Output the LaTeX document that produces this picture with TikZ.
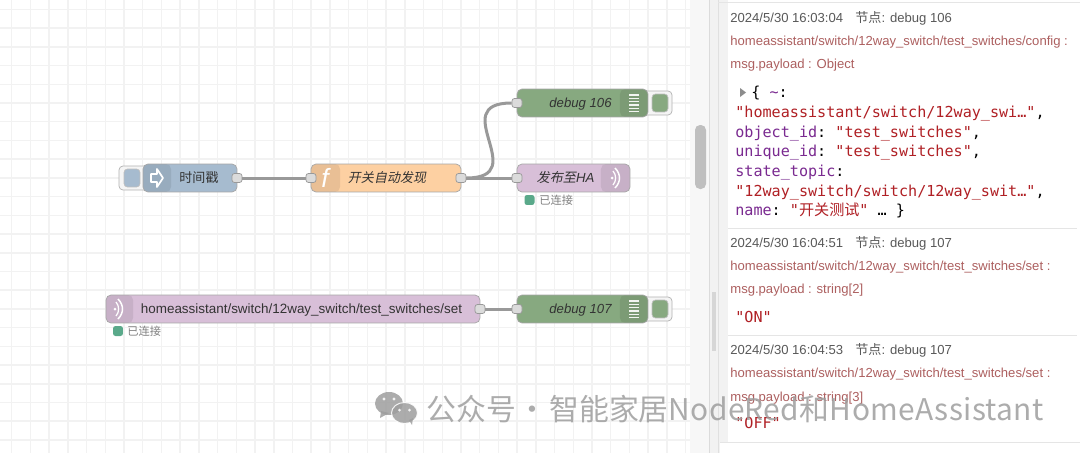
\documentclass[tikz,border=0pt]{standalone}
\usepackage{fontspec}
\setmainfont{Liberation Sans}
\setmonofont{DejaVu Sans Mono}
\newfontfamily\cjk{Noto Sans CJK SC}
\newfontfamily\cjkit[FakeSlant=0.2]{Noto Sans CJK SC}
\newfontfamily\cjkmark[LetterSpace=1.2]{Noto Sans CJK SC}
\usepackage{tikz}
\usetikzlibrary{calc}
\usepackage{xcolor}
\definecolor{injectblue}{HTML}{A6BBCF}
\definecolor{funcorange}{HTML}{FDD0A2}
\definecolor{debuggreen}{HTML}{87A980}
\definecolor{mqttpurple}{HTML}{D8BFD8}
\definecolor{gridgray}{HTML}{F2F2F2}
\definecolor{wiregray}{HTML}{999999}
\definecolor{statusgreen}{HTML}{5AA98A}
\definecolor{toppink}{HTML}{AD6060}
\definecolor{keypurple}{HTML}{7A2A90}
\definecolor{strred}{HTML}{B02025}

\begin{document}
\begin{tikzpicture}[
    x=0.02cm, y=-0.02cm,
    flownode/.style={rectangle, rounded corners=0.1cm, draw=black!35, fill=#1, minimum height=0.56cm, inner sep=0pt},
    stripleft/.style={path picture={\fill[black, opacity=0.08] (path picture bounding box.south west) rectangle ([xshift=#1]path picture bounding box.north west);}},
    stripright/.style={path picture={\fill[black, opacity=0.08] (path picture bounding box.south east) rectangle ([xshift=-#1]path picture bounding box.north east);}},
    port/.style={rectangle, rounded corners=0.05cm, draw=wiregray, fill=black!14, minimum width=0.2cm, minimum height=0.18cm, inner sep=0pt},
    wire/.style={draw=wiregray, line width=0.06cm},
    btnouter/.style={rectangle, rounded corners=0.08cm, draw=black!30, fill=black!4, minimum height=0.48cm, inner sep=0pt},
    btninner/.style={rectangle, rounded corners=0.07cm, fill=#1, draw=black!25, minimum width=0.32cm, minimum height=0.36cm, inner sep=0pt},
    statusdot/.style={rectangle, rounded corners=0.05cm, fill=statusgreen, minimum width=0.2cm, minimum height=0.2cm, inner sep=0pt},
    statustext/.style={anchor=west, inner sep=0pt, text=black!50, font=\cjk\fontsize{6.4}{8}\selectfont},
    label/.style={inner sep=0pt, text=black!80, text height=0.75em, text depth=0.2em, font=\fontsize{7.65}{9}\selectfont},
    logline/.style={anchor=west, inner sep=0pt, text height=0.75em, text depth=0.2em, font=\fontsize{7.45}{9}\selectfont},
    codeline/.style={anchor=west, inner sep=0pt, text height=0.75em, text depth=0.2em, font=\ttfamily\fontsize{8.6}{10}\selectfont}
]
\useasboundingbox (0,0) rectangle (1080,453);
\fill[white] (0,0) rectangle (1080,453);

% === CANVAS GRID ===
\foreach \i [evaluate=\i as \gx using 11.7+18.72*\i] in {0,...,36}
    \draw[gridgray, line width=0.03cm] (\gx,0) -- (\gx,453);
\foreach \j [evaluate=\j as \gy using 9.4+18.72*\j] in {0,...,23}
    \draw[gridgray, line width=0.03cm] (0,\gy) -- (690,\gy);

% === GUTTER AND SCROLLBARS ===
\fill[black!3] (690,0) rectangle (709,453);
\fill[black!5] (709,0) rectangle (728,453);
\draw[black!14, line width=0.02cm] (709,0) -- (709,453);
\draw[black!12, line width=0.02cm] (718,0) -- (718,453);
\fill[black!25, rounded corners=0.1cm] (695,125) rectangle (706,189);
\fill[black!16] (712,292) rectangle (716,351);

% === DEBUG PANEL BACKGROUND ===
\fill[white] (728,3) rectangle (1080,453);
\fill[white] (720,443) rectangle (1080,453);
\draw[black!10, line width=0.02cm] (718,2) -- (1080,2);
\draw[black!10, line width=0.02cm] (728,228) -- (1077,228);
\draw[black!10, line width=0.02cm] (728,335) -- (1077,335);
\draw[black!10, line width=0.02cm] (720,442) -- (1080,442);

% === FLOW 1 ===
\node[btnouter, minimum width=0.6cm] (injectbtn) at (134,178) {};
\node[btninner=injectblue] (injectkey) at (132,178) {};
\node[flownode=injectblue, stripleft=0.56cm, minimum width=1.88cm] (inject) at (190,178) {};
\node[label, font=\cjk\fontsize{7.4}{9}\selectfont] (injecttext) at (199,178) {时间戳};
\draw[white, line width=0.035cm, line join=round] (151,174) -- (157,174) -- (157,169) -- (163,178) -- (157,187) -- (157,182) -- (151,182) -- cycle;

\node[flownode=funcorange, stripleft=0.58cm, minimum width=3cm] (func) at (386,178) {};
\node[label, font=\cjkit\fontsize{7.4}{9}\selectfont] (functext) at (387,178) {开关自动发现};
\node[text=white, inner sep=0pt, font=\rmfamily\itshape\fontsize{15}{15}\selectfont] (funcicon) at (325,178) {f};

\node[btnouter, minimum width=0.6cm] (dbgbtna) at (657,103) {};
\node[btninner=debuggreen] (dbgkeya) at (660,103) {};
\node[flownode=debuggreen, stripright=0.56cm, minimum width=2.62cm] (dbga) at (582.5,103) {};
\node[label, font=\itshape\fontsize{7.5}{9}\selectfont] (dbgatext) at (580.5,103) {debug 106};

\node[flownode=mqttpurple, stripright=0.58cm, minimum width=2.26cm] (pub) at (573.5,178) {};
\node[label, font=\fontsize{7.5}{9}\selectfont] (pubtext) at (565.5,178) {{\cjkit 发布至}\textit{HA}};
\node[statusdot] (pubdot) at (529.5,200) {};
\node[statustext] (pubstatus) at (539,200) {已连接};

% === FLOW 2 ===
\node[flownode=mqttpurple, stripleft=0.54cm, minimum width=7.48cm] (sub) at (293,309) {};
\node[label] (subtext) at (301.5,309) {homeassistant/switch/12way\_switch/test\_switches/set};
\node[statusdot] (subdot) at (118,331) {};
\node[statustext] (substatus) at (127,331) {已连接};

\node[btnouter, minimum width=0.6cm] (dbgbtnb) at (657,309) {};
\node[btninner=debuggreen] (dbgkeyb) at (660,309) {};
\node[flownode=debuggreen, stripright=0.56cm, minimum width=2.62cm] (dbgb) at (582.5,309) {};
\node[label, font=\itshape\fontsize{7.5}{9}\selectfont] (dbgbtext) at (580.5,309) {debug 107};

% Icons in the strips
\foreach \ty in {103,309}
    \foreach \dy in {-8,-4.7,-1.4,1.9,5.2,8.5}
        \fill[white, opacity=0.9] (629,\ty+\dy-0.7) rectangle (639,\ty+\dy+0.7);
\foreach \ix/\iy in {612/178,115/309} {
    \fill[white] (\ix,\iy) circle (1.5);
    \draw[white, line width=0.025cm] (\ix+1,\iy-7) .. controls +(3.5,4) and +(3.5,-4) .. ++(0,14);
    \draw[white, line width=0.03cm] (\ix+3,\iy-10) .. controls +(6,6) and +(6,-6) .. ++(0,20);
}

% Ports
\node[port] (injectout) at (237,178) {};
\node[port] (funcin) at (311,178) {};
\node[port] (funcout) at (461,178) {};
\node[port] (dbgain) at (517,103) {};
\node[port] (pubin) at (517,178) {};
\node[port] (subout) at (480,309) {};
\node[port] (dbgbin) at (517,309) {};

% Wires
\draw[wire] (injectout) -- (funcin);
\draw[wire] (funcout) -- (pubin);
\draw[wire] (funcout.east) .. controls (533,178) and (445,103) .. (dbgain.west);
\draw[wire] (subout) -- (dbgbin);

% === DEBUG MESSAGES ===
\node[logline, text=black!65] (timea) at (730,18) {2024/5/30 16:03:04};
\node[logline, text=black!65] (nodea) at (855,18) {{\cjk 节点}: debug 106};
\node[logline, text=toppink] (topica) at (730,41) {homeassistant/switch/12way\_switch/test\_switches/config :};
\node[logline, text=toppink] (typea) at (730,64) {msg.payload : Object};
\fill[black!45] (740,88) -- (746,92.5) -- (740,97) -- cycle;
\node[codeline] (codea) at (751,93) {\{ \textcolor{keypurple}{\textasciitilde}:};
\node[codeline, text=strred] (codeb) at (735,113) {"homeassistant/switch/12way\_swi…"\textcolor{black}{,}};
\node[codeline] (codec) at (735,132.5) {\textcolor{keypurple}{object\_id}: \textcolor{strred}{"test\_switches"},};
\node[codeline] (coded) at (735,152) {\textcolor{keypurple}{unique\_id}: \textcolor{strred}{"test\_switches"},};
\node[codeline, text=keypurple] (codee) at (735,172) {state\_topic\textcolor{black}{:}};
\node[codeline, text=strred] (codef) at (735,192) {"12way\_switch/switch/12way\_swit…"\textcolor{black}{,}};
\node[codeline] (codeg) at (735,211) {\textcolor{keypurple}{name}: \textcolor{strred}{"{\cjk 开关测试}"} … \}};

\node[logline, text=black!65] (timeb) at (730,243) {2024/5/30 16:04:51};
\node[logline, text=black!65] (nodeb) at (855,243) {{\cjk 节点}: debug 107};
\node[logline, text=toppink] (topicb) at (730,266) {homeassistant/switch/12way\_switch/test\_switches/set :};
\node[logline, text=toppink] (typeb) at (730,289) {msg.payload : string[2]};
\node[codeline, text=strred] (codeh) at (735,318) {"ON"};

\node[logline, text=black!65] (timec) at (730,350) {2024/5/30 16:04:53};
\node[logline, text=black!65] (nodec) at (855,350) {{\cjk 节点}: debug 107};
\node[logline, text=toppink] (topicc) at (730,373) {homeassistant/switch/12way\_switch/test\_switches/set :};
\node[logline, text=toppink] (typec) at (730,397) {msg.payload : string[3]};
\node[codeline, text=strred] (codei) at (735,424) {"OFF"};

% === WATERMARK ===
\begin{scope}[opacity=0.85]
\fill[black!38] (389,403.5) ellipse (14 and 11.5);
\fill[black!38] (381,411) -- (380,418) -- (389,413) -- cycle;
\draw[white, line width=0.02cm, fill=black!38] (404.5,413) ellipse (13 and 10.5);
\fill[black!38] (409,420) -- (412,425) -- (413,418) -- cycle;
\fill[white] (384,399) circle (1.7) (394,399) circle (1.7) (399.5,410) circle (1.5) (409.5,410) circle (1.5);
\node[anchor=west, inner sep=0pt, text=black!38, font=\cjk\fontsize{17}{20}\selectfont] (mark) at (426,409) {公众号\hspace{1pt}·\hspace{1pt}智能家居{\cjkmark NodeRed和HomeAssistant}};
\end{scope}

\end{tikzpicture}
\end{document}
